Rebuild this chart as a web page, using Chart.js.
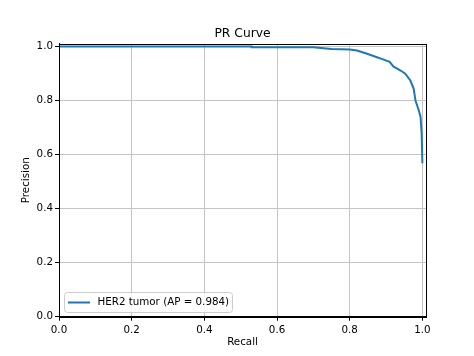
<!DOCTYPE html>
<html>
<head>
<meta charset="utf-8">
<script src="https://cdn.jsdelivr.net/npm/chart.js@4.4.0/dist/chart.umd.min.js"></script>
<style>
html,body{margin:0;padding:0;background:#fff;}
#wrap{width:474px;height:356px;position:relative;}
</style>
</head>
<body>
<div id="wrap"><canvas id="c" width="474" height="356"></canvas></div>
<script>
const chartTitle = "PR Curve";
const seriesLabel = "HER2 tumor (AP = 0.984)";
const xTitle = "Recall";
const yTitle = "Precision";
const tickValues = [0, 0.2, 0.4, 0.6, 0.8, 1.0];
const recall = [0, 0.53, 0.53, 0.70, 0.75, 0.80, 0.82, 0.848, 0.875, 0.89, 0.91, 0.92, 0.94, 0.953, 0.967, 0.976, 0.981, 0.99, 0.995, 0.998, 1.0];
const precision = [1.0, 1.0, 0.997, 0.997, 0.991, 0.989, 0.985, 0.973, 0.960, 0.953, 0.943, 0.926, 0.911, 0.899, 0.874, 0.844, 0.80, 0.764, 0.739, 0.68, 0.568];

const points = recall.map((r, i) => ({x: r, y: precision[i]}));
const FONT = "'DejaVu Sans', sans-serif";

const frame = {
  id: 'frame',
  afterDraw(chart) {
    const {ctx, chartArea: a} = chart;
    ctx.save();
    ctx.strokeStyle = '#000';
    ctx.lineWidth = 1;
    ctx.strokeRect(Math.round(a.left) + 0.5, Math.round(a.top) + 0.5, Math.round(a.right - a.left), Math.round(a.bottom - a.top));
    // legend box
    const bx = 64.5, by = 292.5, bw = 168, bh = 20;
    ctx.fillStyle = 'rgba(255,255,255,0.8)';
    ctx.strokeStyle = '#cccccc';
    ctx.lineWidth = 1;
    ctx.beginPath();
    if (ctx.roundRect) ctx.roundRect(bx, by, bw, bh, 3); else ctx.rect(bx, by, bw, bh);
    ctx.fill();
    ctx.stroke();
    ctx.strokeStyle = '#1f77b4';
    ctx.lineWidth = 2;
    ctx.beginPath();
    ctx.moveTo(68, 302.5);
    ctx.lineTo(90, 302.5);
    ctx.stroke();
    ctx.fillStyle = '#000';
    ctx.font = "10.3px " + FONT;
    ctx.textBaseline = 'middle';
    ctx.textAlign = 'left';
    ctx.fillText(chart.data.datasets[0].label, 97.5, 302.5);
    ctx.restore();
  }
};

new Chart(document.getElementById('c'), {
  type: 'line',
  data: {
    datasets: [{
      label: seriesLabel,
      data: points,
      borderColor: '#1f77b4',
      borderWidth: 2,
      pointRadius: 0,
      fill: false,
      tension: 0
    }]
  },
  options: {
    responsive: false,
    animation: false,
    layout: {padding: {left: 20, right: 48, top: 0, bottom: 0}},
    plugins: {
      legend: {display: false},
      tooltip: {enabled: false},
      title: {
        display: true,
        fullSize: false,
        text: chartTitle,
        color: '#000',
        font: {family: FONT, size: 12.3, weight: 'normal'},
        padding: {top: 26, bottom: 3}
      }
    },
    scales: {
      x: {
        type: 'linear',
        min: 0, max: 1.01,
        afterBuildTicks(s) { s.ticks = tickValues.map(v => ({value: v})); },
        afterFit(s) { s.height = 39.3; },
        ticks: {
          color: '#000',
          font: {family: FONT, size: 10.3},
          padding: 3,
          maxRotation: 0,
          callback: v => v.toFixed(1)
        },
        grid: {color: '#c4c4c4', lineWidth: 1, tickColor: '#000', tickLength: 4, drawOnChartArea: true},
        border: {color: '#000', width: 1},
        title: {display: true, text: xTitle, color: '#000', font: {family: FONT, size: 10.3}, padding: {top: 0, bottom: 7}}
      },
      y: {
        type: 'linear',
        min: 0, max: 1.01,
        afterBuildTicks(s) { s.ticks = tickValues.map(v => ({value: v})); },
        afterFit(s) { s.width = 39; },
        ticks: {
          color: '#000',
          font: {family: FONT, size: 10.3},
          padding: 2,
          callback: v => v.toFixed(1)
        },
        grid: {color: '#c4c4c4', lineWidth: 1, tickColor: '#000', tickLength: 4},
        border: {color: '#000', width: 1},
        title: {display: true, text: yTitle, color: '#000', font: {family: FONT, size: 10.3}, padding: {top: 0, bottom: 6}}
      }
    }
  },
  plugins: [frame]
});
</script>
</body>
</html>
